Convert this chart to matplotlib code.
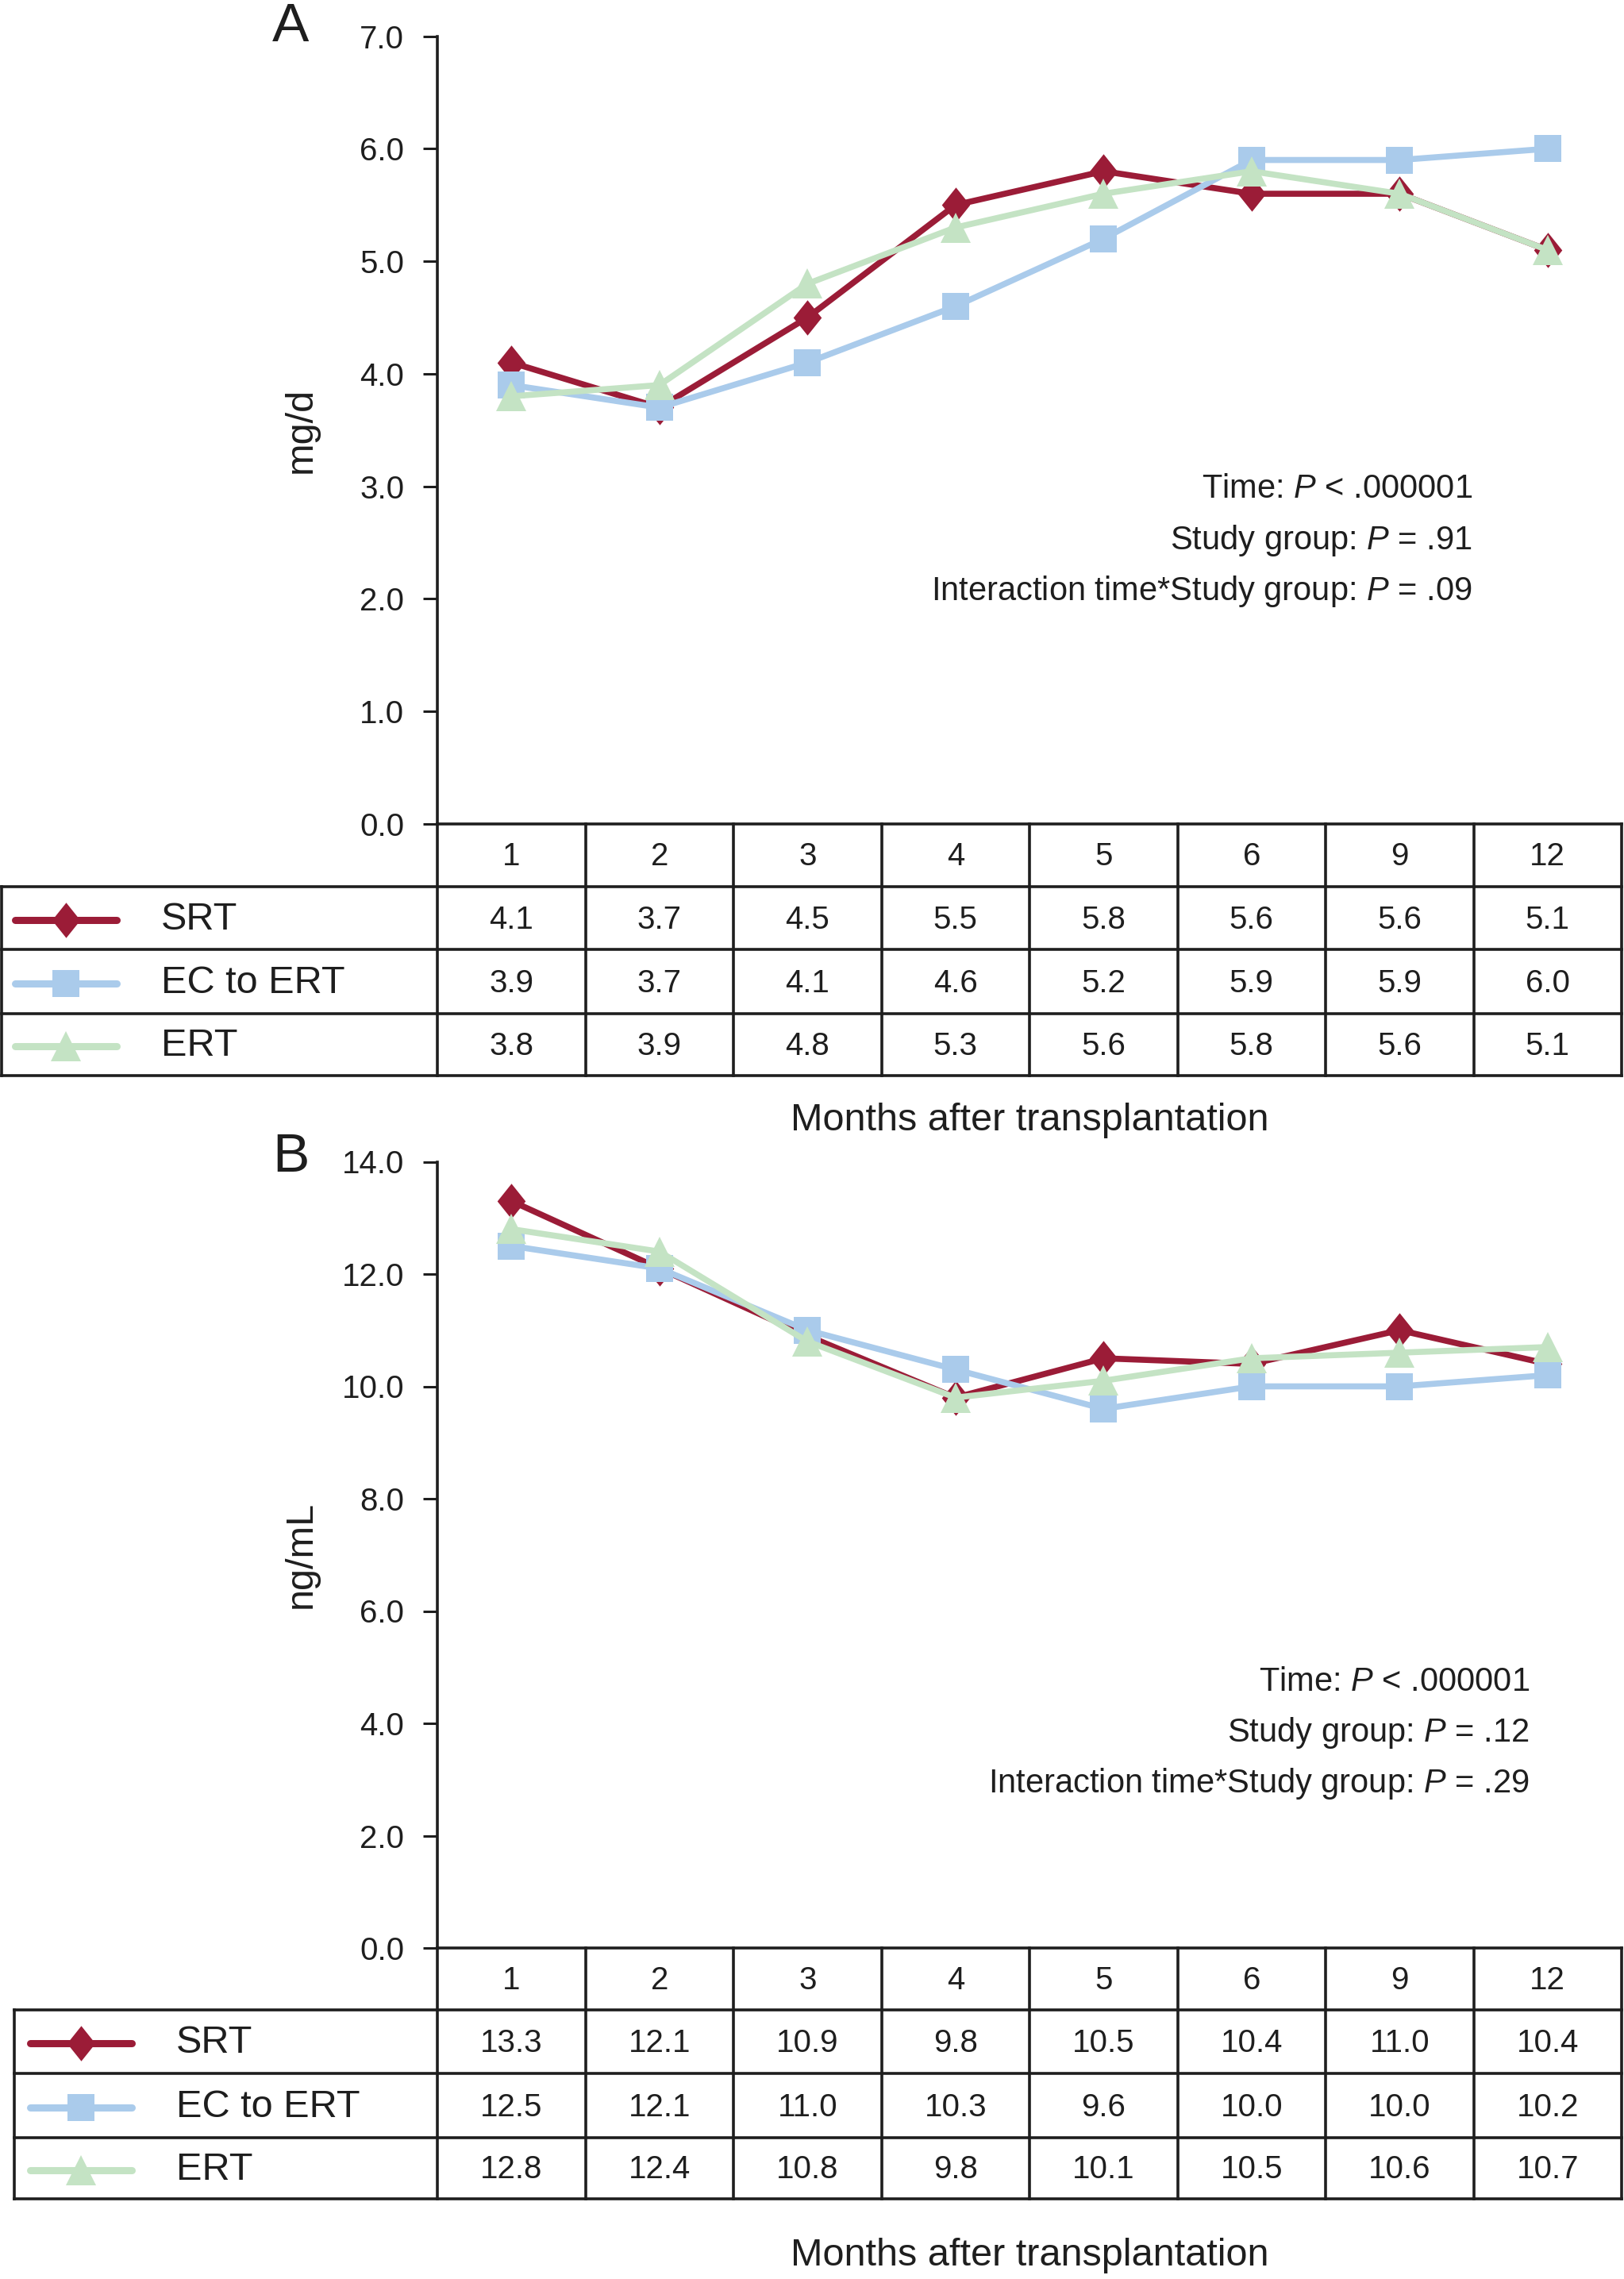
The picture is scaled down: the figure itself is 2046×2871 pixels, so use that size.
import numpy as np
import matplotlib
matplotlib.use('Agg')
import matplotlib.pyplot as plt
from matplotlib.transforms import blended_transform_factory

plt.rcParams['font.family'] = ['Liberation Sans', 'DejaVu Sans']
plt.rcParams['mathtext.fontset'] = 'custom'
plt.rcParams['mathtext.rm'] = 'Liberation Sans'
plt.rcParams['mathtext.it'] = 'Liberation Sans:italic'

# data
months = ['1', '2', '3', '4', '5', '6', '9', '12']
groups = ['SRT', 'EC to ERT', 'ERT']

dose_srt = [4.1, 3.7, 4.5, 5.5, 5.8, 5.6, 5.6, 5.1]
dose_ec = [3.9, 3.7, 4.1, 4.6, 5.2, 5.9, 5.9, 6.0]
dose_ert = [3.8, 3.9, 4.8, 5.3, 5.6, 5.8, 5.6, 5.1]

level_srt = [13.3, 12.1, 10.9, 9.8, 10.5, 10.4, 11.0, 10.4]
level_ec = [12.5, 12.1, 11.0, 10.3, 9.6, 10.0, 10.0, 10.2]
level_ert = [12.8, 12.4, 10.8, 9.8, 10.1, 10.5, 10.6, 10.7]

stats_a = ['Time: $P$ < .000001', 'Study group: $P$ = .91',
           'Interaction time*Study group: $P$ = .09']
stats_b = ['Time: $P$ < .000001', 'Study group: $P$ = .12',
           'Interaction time*Study group: $P$ = .29']

# styles
colors = ['#9b1c37', '#aacbeb', '#c4e3c4']
diamond = [(0, 1), (0.8, 0), (0, -1), (-0.8, 0), (0, 1)]
markers = [diamond, 's', '^']
msizes = [32, 24, 28]

W, H = 2046, 2871
fig = plt.figure(figsize=(W / 100, H / 100), dpi=100)
ov = fig.add_axes([0, 0, 1, 1])
ov.set_xlim(0, W)
ov.set_ylim(H, 0)
ov.axis('off')

LW = 2.6
INK = '#1e1e1e'


def draw_panel(p, series, yticks, ylabel, stats, letter):
    ax = fig.add_axes([p['left'] / W, 1 - p['base'] / H,
                       (p['right'] - p['left']) / W, (p['base'] - p['top']) / H])
    ax.patch.set_visible(False)
    x = np.arange(len(months))
    for vals, name, c, m, ms in zip(series, groups, colors, markers, msizes):
        ax.plot(x, vals, color=c, lw=5.5, marker=m, ms=ms, mec=c, mew=0,
                label=name, clip_on=False)
    ax.set_xlim(-0.5, len(months) - 0.5)
    ax.set_ylim(yticks[0], yticks[-1])
    ax.set_yticks(yticks)
    ax.set_yticklabels(['%.1f' % v for v in yticks], fontsize=29, color=INK)
    ax.tick_params(axis='y', length=13, width=2.2, pad=17, color=INK)
    ax.set_xticks([])
    for s in ['top', 'right']:
        ax.spines[s].set_visible(False)
    for s in ['left', 'bottom']:
        ax.spines[s].set_linewidth(LW)
        ax.spines[s].set_color(INK)

    # table below the x axis
    rows = p['rows']
    tr = blended_transform_factory(ax.transData, ov.transData)
    for i in range(len(months) + 1):
        ov.plot([i - 0.5, i - 0.5], [rows[0], rows[-1]], color=INK,
                lw=LW, transform=tr, solid_capstyle='projecting')
    for r in rows[1:]:
        ov.plot([p['tleft'], p['right']], [r, r], color=INK, lw=LW,
                solid_capstyle='projecting')
    ov.plot([p['tleft'], p['tleft']], [rows[1], rows[-1]], color=INK, lw=LW)

    hy = (rows[0] + rows[1]) / 2 + 2
    for i, m in enumerate(months):
        ov.text(i, hy, m, transform=tr, ha='center', va='center',
                fontsize=29, color=INK)
    for k, (vals, name, c, m, ms) in enumerate(zip(series, groups, colors,
                                                  markers, msizes)):
        cy = (rows[k + 1] + rows[k + 2]) / 2 + 2
        for i, v in enumerate(vals):
            ov.text(i, cy, '%.1f' % v, transform=tr, ha='center', va='center',
                    fontsize=29, color=INK)
        ov.plot([p['lx0'], p['lx1']], [cy, cy], color=c, lw=6.5,
                solid_capstyle='round')
        ov.plot([p['lmx']], [cy], color=c, marker=m, ms=ms, mew=0)
        ov.text(p['ltx'], cy, name, ha='left', va='center', fontsize=35,
                color=INK)

    # labels
    ov.text(p['ylx'], (p['top'] + p['base']) / 2, ylabel, rotation=90,
            ha='center', va='center', fontsize=35, color=INK)
    ov.text(1297, p['xly'], 'Months after transplantation', ha='center',
            va='center', fontsize=35, color=INK)
    ov.text(366, p['lety'], letter, ha='center', va='center', fontsize=50,
            color=INK)
    for s, sy in zip(stats, p['sty']):
        ov.text(p['stx'], sy, s, ha='right', va='center', fontsize=30,
                color=INK)
    return ax


panel_a = dict(left=551, right=2043, top=45.6, base=1038,
               rows=[1038, 1117, 1196, 1277, 1355], tleft=2,
               lx0=19, lx1=147, lmx=83, ltx=203, ylx=379, xly=1412, lety=34,
               stx=1855, sty=[616, 681, 745])
panel_b = dict(left=551, right=2043, top=1463.5, base=2454,
               rows=[2454, 2532, 2612, 2693, 2770], tleft=18,
               lx0=38, lx1=166, lmx=102, ltx=222, ylx=379, xly=2841, lety=1458,
               stx=1927, sty=[2119, 2183, 2247])

draw_panel(panel_a, [dose_srt, dose_ec, dose_ert], np.arange(0, 7.1, 1.0),
           'mg/d', stats_a, 'A')
draw_panel(panel_b, [level_srt, level_ec, level_ert], np.arange(0, 14.1, 2.0),
           'ng/mL', stats_b, 'B')

fig.savefig('out.png', dpi=100)
